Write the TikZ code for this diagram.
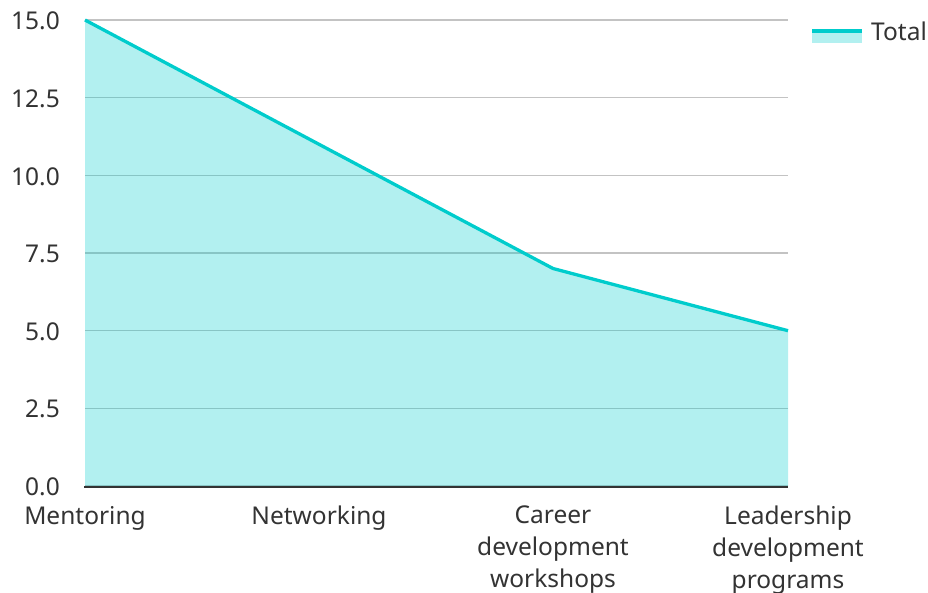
\documentclass[tikz,border=0pt]{standalone}
\usepackage{fontspec}
\setmainfont{Noto Sans}
\definecolor{series}{RGB}{0,204,204}
\definecolor{grid}{RGB}{195,195,195}
\definecolor{txt}{RGB}{51,51,51}
\begin{document}
\begin{tikzpicture}[x=1bp,y=-1bp,
  lbl/.style={font=\fontsize{24.5bp}{32bp}\selectfont, text=txt, inner sep=0pt},
  ylbl/.style={lbl, anchor=east},
  xlbl/.style={lbl, anchor=north, align=center},
  gridline/.style={draw=grid, line width=1.3bp},
  seriesline/.style={draw=series, line width=3.3bp, line join=round},
  seriesfill/.style={fill=series, fill opacity=0.3}]
\useasboundingbox (0,0) rectangle (928,593);
% gridlines
\foreach \v in {0,...,6} {
  \coordinate (gl\v) at (85,{486-\v*77.667});
  \coordinate (gr\v) at (788,{486-\v*77.667});
  \draw[gridline] (gl\v) -- (gr\v);
}
% data points
\coordinate (p1) at (85,20);
\coordinate (p2) at (319,144.3);
\coordinate (p3) at (553,268.5);
\coordinate (p4) at (788,330.7);
\coordinate (b1) at (85,486);
\coordinate (b4) at (788,486);
\fill[seriesfill] (b1) -- (p1) -- (p2) -- (p3) -- (p4) -- (b4) -- cycle;
\draw[seriesline] (p1) -- (p2) -- (p3) -- (p4);
% axis
\draw[draw=txt, line width=2bp] (84,486.5) coordinate (a0) -- (788,486.5) coordinate (a1);
% y labels
\node[ylbl] (y0) at (60,487) {0.0};
\node[ylbl] (y1) at (60,409.3) {2.5};
\node[ylbl] (y2) at (60,331.7) {5.0};
\node[ylbl] (y3) at (60,254) {7.5};
\node[ylbl] (y4) at (60,176.3) {10.0};
\node[ylbl] (y5) at (60,98.7) {12.5};
\node[ylbl] (y6) at (60,21) {15.0};
% x labels
\node[xlbl] (x1) at (85,506) {Mentoring};
\node[xlbl] (x2) at (319,506) {Networking};
\node[xlbl] (x3) at (553,506) {Career\\development\\workshops};
\node[xlbl] (x4) at (788,506) {Leadership\\development\\programs};
% legend
\fill[seriesfill] (812,31) rectangle (862,43.5);
\draw[draw=series, line width=3.3bp] (812,31) coordinate (l0) -- (862,31) coordinate (l1);
\node[lbl, anchor=west] (leg) at (871,31) {Total};
\end{tikzpicture}
\end{document}
